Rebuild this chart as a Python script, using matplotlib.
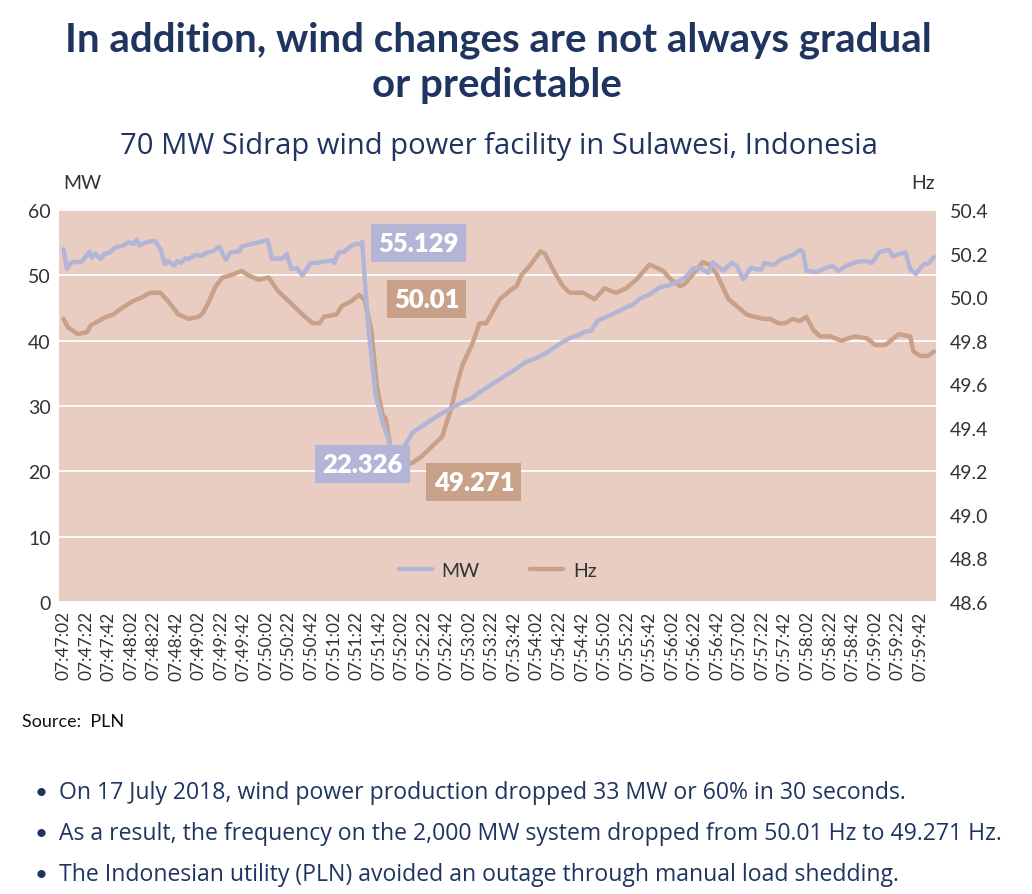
import numpy as np
import matplotlib
matplotlib.use('Agg')
import matplotlib.pyplot as plt

plt.rcParams['font.family'] = ['Lato', 'DejaVu Sans']

# seconds after 07:47:02
mw_t = [0, 3, 7, 16, 23, 25, 28, 33, 36, 40, 46, 52, 58, 62, 65, 67, 74, 81, 86, 90,
        93, 98, 101, 104, 108, 111, 117, 123, 127, 133, 138, 144, 148, 156, 158, 164,
        172, 176, 181, 185, 191, 194, 198, 202, 207, 212, 219, 224, 231, 238, 240, 244,
        249, 255, 259, 264, 265, 268, 271, 277, 283, 290, 296, 302, 310, 319, 330, 345,
        363, 369, 378, 387, 398, 410, 419, 428, 440, 449, 458, 461, 468, 474, 481, 490,
        499, 505, 511, 520, 529, 538, 547, 553, 558, 564, 572, 576, 585, 593, 597, 603,
        610, 615, 619, 622, 630, 637, 644, 649, 653, 656, 659, 668, 677, 683, 687, 695,
        704, 713, 717, 724, 732, 736, 742, 747, 751, 756, 763, 768, 772]
mw = [54.0, 51.0, 52.0, 52.1, 53.6, 52.7, 53.3, 52.5, 53.3, 53.4, 54.3, 54.5, 55.1, 54.8,
      55.5, 54.6, 55.1, 55.3, 54.0, 51.7, 52.2, 51.5, 52.2, 51.9, 52.6, 52.5, 53.1, 53.0,
      53.5, 53.7, 54.4, 52.4, 53.5, 53.7, 54.4, 54.7, 55.0, 55.2, 55.4, 52.5, 52.6, 52.5,
      53.3, 51.0, 51.1, 50.0, 51.9, 51.9, 52.1, 52.3, 51.9, 53.5, 53.6, 54.5, 54.8, 54.8,
      55.129, 47.5, 41.0, 31.5, 27.5, 24.0, 22.326, 23.7, 26.0, 27.0, 28.3, 29.8, 31.3,
      32.1, 33.1, 34.1, 35.3, 36.7, 37.3, 38.1, 39.5, 40.4, 40.9, 41.3, 41.5, 43.1, 43.6,
      44.3, 45.1, 45.5, 46.4, 47.1, 48.2, 48.5, 49.2, 49.9, 51.0, 51.2, 50.4, 52.0, 50.7,
      51.9, 51.5, 49.4, 51.2, 50.9, 50.9, 51.9, 51.6, 52.5, 52.9, 53.3, 53.9, 53.6, 50.7,
      50.5, 51.2, 51.4, 50.7, 51.5, 52.1, 52.2, 51.9, 53.6, 53.9, 52.9, 53.3, 53.5, 51.0,
      50.2, 51.7, 51.9, 52.8]

hz_t = [0, 4, 13, 21, 24, 31, 38, 44, 49, 61, 70, 77, 86, 93, 102, 111, 120, 124, 129,
        135, 141, 148, 153, 158, 164, 173, 182, 190, 200, 212, 221, 227, 231, 242, 247,
        255, 262, 267, 273, 278, 283, 286, 290, 296, 302, 310, 318, 326, 330, 336, 339,
        344, 348, 354, 363, 369, 375, 387, 396, 402, 406, 413, 423, 427, 436, 443, 449,
        461, 471, 480, 490, 499, 508, 520, 532, 539, 547, 551, 559, 567, 573, 579, 590,
        597, 606, 613, 621, 627, 634, 640, 647, 653, 659, 665, 671, 680, 690, 702, 713,
        720, 729, 741, 751, 754, 760, 767, 772]
hz = [49.90, 49.86, 49.83, 49.84, 49.87, 49.89, 49.91, 49.92, 49.94, 49.98, 50.00, 50.02,
      50.02, 49.98, 49.92, 49.90, 49.91, 49.93, 49.98, 50.05, 50.09, 50.10, 50.11, 50.12,
      50.10, 50.08, 50.09, 50.03, 49.98, 49.92, 49.88, 49.88, 49.91, 49.92, 49.96, 49.98,
      50.01, 49.99, 49.85, 49.59, 49.46, 49.44, 49.31, 49.271, 49.23, 49.24, 49.27, 49.31,
      49.33, 49.36, 49.41, 49.49, 49.58, 49.69, 49.79, 49.88, 49.88, 49.99, 50.03, 50.05,
      50.10, 50.14, 50.21, 50.20, 50.11, 50.05, 50.02, 50.02, 49.99, 50.04, 50.02, 50.04,
      50.08, 50.15, 50.12, 50.08, 50.05, 50.06, 50.11, 50.16, 50.15, 50.11, 49.99, 49.96,
      49.92, 49.91, 49.90, 49.90, 49.88, 49.88, 49.90, 49.89, 49.91, 49.85, 49.82, 49.82,
      49.80, 49.82, 49.81, 49.78, 49.78, 49.83, 49.82, 49.75, 49.73, 49.73, 49.75]

tick_secs = list(range(0, 761, 20))
tick_labels = ['07:{:02d}:{:02d}'.format(47 + (2 + s) // 60, (2 + s) % 60) for s in tick_secs]

navy = '#1F3560'
blue = '#B3B5D6'
brown = '#C9A088'
bg = '#E9CDC3'
txt = '#333333'

fig = plt.figure(figsize=(10.32, 8.95), dpi=100)
ax = fig.add_axes([0.0572, 0.3263, 0.8498, 0.4379])
ax2 = ax.twinx()

ax.set_facecolor(bg)
ax.set_ylim(0, 60)
ax.set_yticks(range(0, 61, 10))
ax.set_xlim(-4, 774)
ax.grid(axis='y', color='white', linewidth=1.3)
ax.set_axisbelow(True)
for s in ax.spines.values():
    s.set_visible(False)
for s in ax2.spines.values():
    s.set_visible(False)

ax2.set_ylim(48.6, 50.4)
ax2.set_yticks(np.arange(48.6, 50.41, 0.2))
ax2.set_yticklabels(['{:.1f}'.format(v) for v in np.arange(48.6, 50.41, 0.2)])

hz_line, = ax2.plot(hz_t, hz, color=brown, lw=3.2, solid_capstyle='round', label='Hz')
# MW drawn on the Hz axes (rescaled) so it sits above the background
mw_line, = ax2.plot(np.array(mw_t), np.array(mw) / 60 * 1.8 + 48.6, color=blue, lw=3.2,
                    solid_capstyle='round', label='MW', zorder=3)

ax.set_xticks(tick_secs)
ax.set_xticklabels(tick_labels, rotation=90, fontsize=12.5, color=txt)
ax.tick_params(axis='both', length=0, pad=6)
ax.tick_params(axis='y', labelsize=14, labelcolor=txt)
ax2.tick_params(axis='y', length=0, labelsize=14, labelcolor=txt, pad=10)

def tag(x, y, s, c):
    ax2.text(x, y / 60 * 1.8 + 48.6, s, ha='center', va='center', fontsize=18.5,
             fontweight='heavy', color='white',
             bbox=dict(boxstyle='square,pad=0.28', fc=c, ec='none'), zorder=10)

tag(315, 55.0, '55.129', blue)
tag(322, 46.4, '50.01', brown)
tag(265, 21.1, '22.326', blue)
tag(364, 18.4, '49.271', brown)

ax2.legend(handles=[mw_line, hz_line], loc='center', bbox_to_anchor=(0.5, 0.08), ncol=2,
           frameon=False, fontsize=14, handlelength=1.7, handletextpad=0.5,
           columnspacing=2.6, labelcolor=txt)

fig.text(0.061, 0.789, 'MW', fontsize=14, color=txt)
fig.text(0.906, 0.789, 'Hz', fontsize=14, color=txt, ha='right')

fig.text(0.483, 0.955, 'In addition, wind changes are not always gradual', ha='center',
         va='center', fontsize=29, fontweight='bold', color=navy)
fig.text(0.482, 0.905, 'or predictable', ha='center', va='center',
         fontsize=29, fontweight='bold', color=navy)
fig.text(0.483, 0.836, '70 MW Sidrap wind power facility in Sulawesi, Indonesia',
         ha='center', va='center', fontsize=21, color=navy, family='Open Sans')

fig.text(0.021, 0.193, 'Source:  PLN', fontsize=13, color='#111111', va='center')
bullets = ['On 17 July 2018, wind power production dropped 33 MW or 60% in 30 seconds.',
           'As a result, the frequency on the 2,000 MW system dropped from 50.01 Hz to 49.271 Hz.',
           'The Indonesian utility (PLN) avoided an outage through manual load shedding.']
for i, b in enumerate(bullets):
    y = (895 - (793 + 41 * i)) / 895
    fig.text(0.034, y, '\u2022', fontsize=16, color=navy, va='center')
    fig.text(0.057, y, b, fontsize=16.6, color=navy, va='center', family='Open Sans')

fig.savefig('out.png', dpi=100)
